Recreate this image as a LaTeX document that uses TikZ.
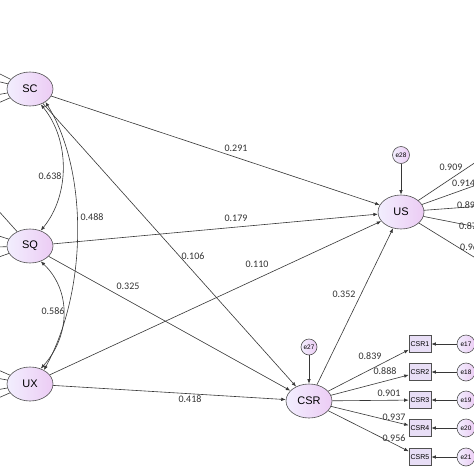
\documentclass[tikz,border=0pt]{standalone}
\usepackage{fontspec}
\setmainfont{Liberation Sans}
\newfontfamily\numfont{Carlito}
\usetikzlibrary{shapes.geometric,arrows.meta}
\definecolor{lavL}{RGB}{242,238,254}
\definecolor{lavR}{RGB}{236,204,244}
\definecolor{boxfill}{RGB}{232,222,246}
\definecolor{edgec}{RGB}{80,80,80}
\definecolor{linec}{RGB}{55,55,55}
\begin{document}
\begin{tikzpicture}[x=1pt,y=-1pt,
 latent/.style={ellipse,draw=edgec,line width=0.6pt,left color=lavL,right color=lavR,minimum width=46pt,minimum height=34pt,inner sep=0pt,font=\fontsize{11}{12}\selectfont},
 errc/.style={circle,draw=edgec,line width=0.6pt,left color=lavL,right color=lavR,minimum size=17pt,inner sep=0pt,font=\fontsize{6.5}{7}\selectfont},
 obs/.style={rectangle,draw=edgec,line width=0.6pt,fill=boxfill,minimum width=22pt,minimum height=17pt,inner sep=0pt,font=\fontsize{7}{8}\selectfont},
 coef/.style={font=\numfont\fontsize{10}{11}\selectfont,text=black!80,inner sep=0pt},
 arr/.style={draw=linec,line width=0.6pt,-{Latex[length=4.5pt,width=3.5pt]}},
 cov/.style={draw=linec,line width=0.6pt,{Latex[length=4.5pt,width=3.5pt]}-{Latex[length=4.5pt,width=3.5pt]}},
 ind/.style={draw=linec,line width=0.6pt},
]
\useasboundingbox (0,0) rectangle (474,474);
\fill[white] (0,0) rectangle (474,474);
\clip (0,0) rectangle (474,474);

% latent variables
\node[latent] (SC) at (30,89) {SC};
\node[latent] (SQ) at (30,246) {SQ};
\node[latent] (UX) at (30,384) {UX};
\node[latent] (US) at (401,212) {US};
\node[latent] (CSR) at (309,401) {CSR};

% error terms
\node[errc] (e28) at (401,155) {e28};
\node[errc,minimum size=16pt] (e27) at (309,347) {e27};

% CSR indicators
\node[obs] (CSR1) at (420,344) {CSR1};
\node[obs] (CSR2) at (420,372) {CSR2};
\node[obs] (CSR3) at (420,400) {CSR3};
\node[obs] (CSR4) at (420,428) {CSR4};
\node[obs] (CSR5) at (420,457) {CSR5};
\node[errc,minimum size=18pt] (e17) at (466,344) {e17};
\node[errc,minimum size=18pt] (e18) at (466,372) {e18};
\node[errc,minimum size=18pt] (e19) at (466,400) {e19};
\node[errc,minimum size=18pt] (e20) at (466,428) {e20};
\node[errc,minimum size=18pt] (e21) at (466,457) {e21};

% off-picture ends of indicator lines
\coordinate (sc1) at (-4,72);
\coordinate (sc2) at (-4,81);
\coordinate (sc3) at (-4,95);
\coordinate (sc4) at (-4,104);
\coordinate (sq1) at (-4,208);
\coordinate (sq2) at (-4,235);
\coordinate (sq3) at (-4,247);
\coordinate (sq4) at (-4,258);
\coordinate (ux1) at (-4,369);
\coordinate (ux2) at (-4,378);
\coordinate (ux3) at (-4,390);
\coordinate (ux4) at (-4,399);
\coordinate (us1) at (482,158);
\coordinate (us2) at (482,183);
\coordinate (us3) at (482,206);
\coordinate (us4) at (482,228);
\coordinate (us5) at (482,262);

\foreach \c in {sc1,sc2,sc3,sc4} \draw[ind] (\c) -- (SC);
\foreach \c in {sq1,sq2,sq3,sq4} \draw[ind] (\c) -- (SQ);
\foreach \c in {ux1,ux2,ux3,ux4} \draw[ind] (\c) -- (UX);
\foreach \c in {us1,us2,us3,us4,us5} \draw[ind] (US) -- (\c);

% structural paths
\draw[arr] (SC) -- (US);
\draw[arr] (SQ) -- (US);
\draw[arr] (UX) -- (US);
\draw[arr] (SC) -- (CSR);
\draw[arr] (SQ) -- (CSR);
\draw[arr] (UX) -- (CSR);
\draw[arr] (CSR) -- (US);
\draw[arr] (e28) -- (US);
\draw[arr] (e27) -- (CSR);

% covariances
\draw[cov] (SC.-55) .. controls (70,140) and (70,195) .. (SQ.55);
\draw[cov] (SC.-40) .. controls (88,170) and (88,290) .. (UX.45);
\draw[cov] (SQ.-55) .. controls (71,290) and (71,335) .. (UX.55);

% CSR measurement
\foreach \i in {1,...,5} \draw[arr] (CSR) -- (CSR\i);
\draw[arr] (e17) -- (CSR1);
\draw[arr] (e18) -- (CSR2);
\draw[arr] (e19) -- (CSR3);
\draw[arr] (e20) -- (CSR4);
\draw[arr] (e21) -- (CSR5);

% coefficients
\node[coef] (c291) at (236,148) {0.291};
\node[coef] (c179) at (236,218) {0.179};
\node[coef] (c106) at (193,256) {0.106};
\node[coef] (c110) at (257,264) {0.110};
\node[coef] (c325) at (128,286) {0.325};
\node[coef] (c418) at (190,399) {0.418};
\node[coef] (c352) at (344,294) {0.352};
\node[coef] (c638) at (50,176) {0.638};
\node[coef] (c488) at (92,217) {0.488};
\node[coef] (c586) at (53,311) {0.586};
\node[coef] (c839) at (370,356) {0.839};
\node[coef] (c888) at (385,371) {0.888};
\node[coef] (c901) at (389,393) {0.901};
\node[coef] (c937) at (394,417) {0.937};
\node[coef] (c956) at (394,438) {0.956};
\node[coef] (c909) at (451,167) {0.909};
\node[coef,anchor=west] (c914) at (452,183) {0.914};
\node[coef,anchor=west] (c89) at (457,205) {0.89};
\node[coef,anchor=west] (c87) at (459,226) {0.87};
\node[coef,anchor=west] (c96) at (460,247) {0.96};
\end{tikzpicture}
\end{document}
